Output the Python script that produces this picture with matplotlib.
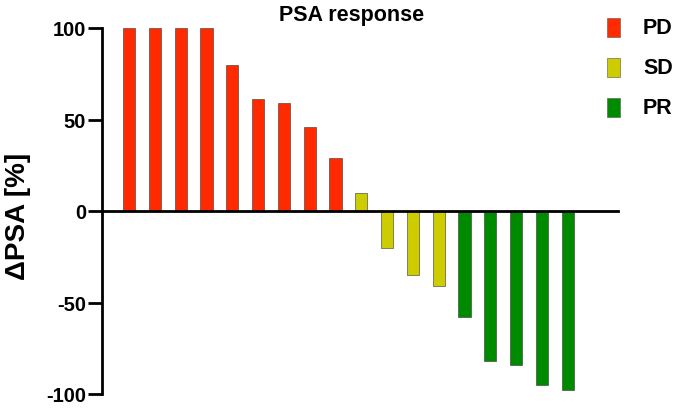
import numpy as np
import matplotlib
matplotlib.use("Agg")
import matplotlib.pyplot as plt
from matplotlib.patches import Rectangle

plt.rcParams['font.family'] = ['Liberation Sans', 'DejaVu Sans']
plt.rcParams['font.weight'] = 'bold'

# PSA change per patient, sorted (waterfall)
pd_vals = [100, 100, 100, 100, 80, 61, 59, 46, 29]
sd_vals = [10, -20, -35, -41]
pr_vals = [-58, -82, -84, -95, -98]
groups = ['PD', 'SD', 'PR']
colors = {'PD': '#ff2a00', 'SD': '#cccc00', 'PR': '#008a00'}
yticks = [-100, -50, 0, 50, 100]

vals = pd_vals + sd_vals + pr_vals
cols = [colors['PD']] * len(pd_vals) + [colors['SD']] * len(sd_vals) + [colors['PR']] * len(pr_vals)
x = np.arange(len(vals))

W, H = 685, 410
fig = plt.figure(figsize=(W / 100, H / 100), dpi=100)
ax = fig.add_axes([102 / W, 1 - 395 / H, 516 / W, 366 / H])

ax.bar(x, vals, width=0.47, color=cols, edgecolor='#333333', linewidth=0.4, zorder=2)

ax.set_xlim(-1.05, len(vals) + 0.95)
ax.set_ylim(-100, 100)
ax.set_yticks(yticks)
ax.set_yticklabels([str(v) for v in yticks], fontsize=14.5, fontweight='bold')
ax.tick_params(axis='y', length=10, width=2, pad=1.5)
ax.set_xticks([])

ax.spines['top'].set_visible(False)
ax.spines['right'].set_visible(False)
ax.spines['left'].set_linewidth(2)
ax.spines['bottom'].set_position(('data', 0))
ax.spines['bottom'].set_linewidth(2)
ax.spines['bottom'].set_zorder(3)

fig.text(18.5 / W, 1 - 216 / H, 'ΔPSA [%]', rotation=90, ha='center', va='center',
         fontsize=20, fontweight='bold')
fig.text(352 / W, 1 - 15 / H, 'PSA response', ha='center', va='center',
         fontsize=15.5, fontweight='bold')

# legend drawn by hand: small tall swatches with bold labels
for i, g in enumerate(groups):
    cy = 28.5 + 40 * i
    fig.add_artist(Rectangle((607 / W, 1 - (cy + 9.5) / H), 13 / W, 19 / H,
                             transform=fig.transFigure, facecolor=colors[g],
                             edgecolor='#555555', linewidth=0.4))
    fig.text(643 / W, 1 - cy / H, g, ha='left', va='center', fontsize=15.5, fontweight='bold')

fig.savefig('out.png', dpi=100)
